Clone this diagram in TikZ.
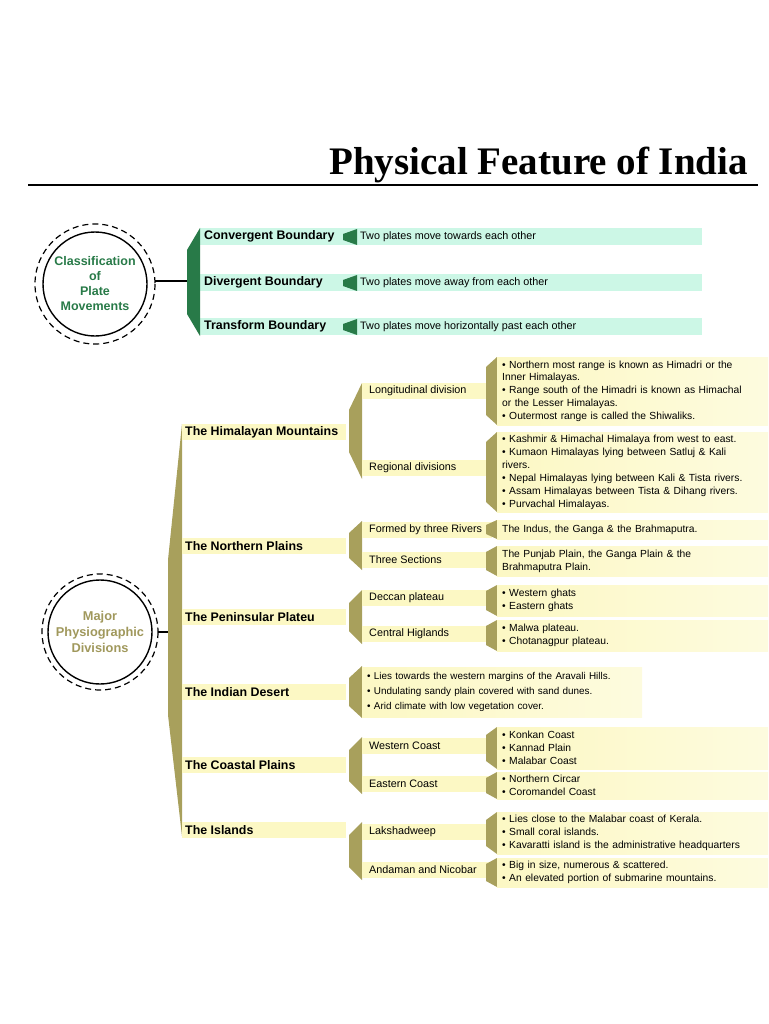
\documentclass[tikz,border=0pt]{standalone}
\usepackage{fontspec}
\setmainfont{Liberation Sans}
\newfontfamily\titlefont{Liberation Serif}
\definecolor{dgreen}{RGB}{40,122,72}
\definecolor{mint}{RGB}{204,247,230}
\definecolor{olive}{RGB}{168,160,92}
\definecolor{oltext}{RGB}{160,152,92}
\definecolor{lyel}{RGB}{252,248,196}
\newcommand{\brk}[6]{\fill[#6] (#2,#3) -- (#1,#3+#5) -- (#1,#4-#5) -- (#2,#4) -- cycle;}
\tikzset{
 bar/.style={fill=lyel,draw=none,inner sep=0pt,anchor=north west},
 lone/.style={anchor=west,inner sep=0pt,font=\fontsize{12.4}{14}\selectfont\bfseries},
 ltwo/.style={anchor=west,inner sep=0pt,font=\fontsize{10.8}{12}\selectfont},
 tbox/.style={anchor=north west,left color=lyel,right color=lyel!55!white,inner sep=0pt,inner xsep=5pt,align=left,font=\fontsize{10.3}{12.9}\selectfont},
 mbar/.style={fill=mint,draw=none,inner sep=0pt,anchor=north west},
}
\begin{document}
\begin{tikzpicture}[x=1pt,y=-1pt]
\useasboundingbox (0,0) rectangle (768,1024);
% title
\node[anchor=base east,inner sep=0pt,font=\titlefont\fontsize{39}{40}\selectfont\bfseries] (title) at (748,175) {Physical Feature of India};
\draw[line width=1.5pt] (28,185) -- (758,185);

% ---- top section
\node[circle,draw,line width=1.4pt,minimum size=104pt,inner sep=0pt,align=center,text=dgreen,font=\fontsize{12.5}{15}\selectfont\bfseries] (c1) at (95,284) {Classification\\of\\Plate\\Movements};
\draw[dashed,line width=1.2pt,dash pattern=on 6pt off 4pt] (c1.center) circle (60);
\coordinate (b1) at (187,281);
\coordinate (c1r) at (155,281);
\draw[line width=1.3pt] (c1r) -- (b1);
\foreach \y/\t/\d in {228/Convergent Boundary/Two plates move towards each other,274/Divergent Boundary/Two plates move away from each other,318/Transform Boundary/Two plates move horizontally past each other}{
  \node[mbar,minimum width=502pt,minimum height=17pt] (m\y) at (200,\y) {};
  \node[anchor=west,inner sep=0pt,font=\fontsize{12.4}{14}\selectfont\bfseries] (t\y) at (204,\y+8) {\t};
  \node[anchor=west,inner sep=0pt,font=\fontsize{10.8}{12}\selectfont] (d\y) at (360,\y+9) {\d};
  \brk{343}{357}{\y+1}{\y+17}{5}{dgreen}
}
\brk{187}{200}{228}{336}{22}{dgreen}

% ---- lower section
\node[circle,draw,line width=1.4pt,minimum size=104pt,inner sep=0pt,align=center,text=oltext,font=\fontsize{12.8}{16}\selectfont\bfseries] (c2) at (100,632) {Major\\Physiographic\\Divisions};
\draw[dashed,line width=1.2pt,dash pattern=on 6pt off 4pt] (c2.center) circle (58);
\coordinate (b2) at (168,632);
\coordinate (c2r) at (158,632);
\draw[line width=1.3pt] (c2r) -- (b2);
\fill[olive] (182,424) -- (168,560) -- (168,715) -- (182,836) -- cycle;

% level 1 bars
\foreach \y/\t in {432/The Himalayan Mountains,546/The Northern Plains,617/The Peninsular Plateu,692/The Indian Desert,765/The Coastal Plains,830/The Islands}{
  \node[bar,minimum width=164pt,minimum height=16pt] at (182,\y-8) {};
  \node[lone] at (185,\y) {\t};
}
% level 2 brackets
\brk{349}{362}{383}{479}{27}{olive}
\brk{349}{362}{521}{570}{12}{olive}
\brk{349}{362}{590}{644}{13}{olive}
\brk{349}{362}{666}{718}{12}{olive}
\brk{349}{362}{737}{794}{13}{olive}
\brk{349}{362}{822}{880}{13}{olive}
% level 2 labels
\foreach \y/\t in {391/Longitudinal division,468/Regional divisions,530/Formed by three Rivers,560/Three Sections,598/Deccan plateau,634/Central Higlands,746/Western Coast,784/Eastern Coast,832/Lakshadweep,870/Andaman and Nicobar}{
  \node[bar,minimum width=130pt,minimum height=16pt] at (362,\y-8) {};
  \node[ltwo] at (369,\y) {\t};
}
% desert box
\node[tbox,text width=270pt,minimum height=50pt,font=\fontsize{9.9}{14.8}\selectfont] (desert) at (362,667) {• Lies towards the western margins of the Aravali Hills.\\• Undulating sandy plain covered with sand dunes.\\• Arid climate with low vegetation cover.};

% level 3 brackets
\brk{486}{497}{357}{425}{10}{olive}
\brk{486}{497}{432}{512}{10}{olive}
\brk{486}{497}{520}{539}{5}{olive}
\brk{486}{497}{546}{576}{6}{olive}
\brk{486}{497}{585}{616}{6}{olive}
\brk{486}{497}{620}{651}{6}{olive}
\brk{486}{497}{727}{769}{8}{olive}
\brk{486}{497}{772}{799}{6}{olive}
\brk{486}{497}{812}{854}{8}{olive}
\brk{486}{497}{858}{887}{6}{olive}
% level 3 boxes
\node[tbox,text width=261pt,minimum height=68pt] (lon) at (497,357) {• Northern most range is known as Himadri or the\\Inner Himalayas.\\• Range south of the Himadri is known as Himachal\\or the Lesser Himalayas.\\• Outermost range is called the Shiwaliks.};
\node[tbox,text width=261pt,minimum height=80pt] (reg) at (497,432) {• Kashmir \& Himachal Himalaya from west to east.\\• Kumaon Himalayas lying between Satluj \& Kali\\rivers.\\• Nepal Himalayas lying between Kali \& Tista rivers.\\• Assam Himalayas between Tista \& Dihang rivers.\\• Purvachal Himalayas.};
\node[tbox,text width=261pt,minimum height=19pt] (riv) at (497,520) {The Indus, the Ganga \& the Brahmaputra.};
\node[tbox,text width=261pt,minimum height=30pt] (sec) at (497,546) {The Punjab Plain, the Ganga Plain \& the\\Brahmaputra Plain.};
\node[tbox,text width=261pt,minimum height=31pt] (dec) at (497,585) {• Western ghats\\• Eastern ghats};
\node[tbox,text width=261pt,minimum height=31pt] (cen) at (497,620) {• Malwa plateau.\\• Chotanagpur plateau.};
\node[tbox,text width=261pt,minimum height=42pt] (wes) at (497,727) {• Konkan Coast\\• Kannad Plain\\• Malabar Coast};
\node[tbox,text width=261pt,minimum height=27pt] (eas) at (497,772) {• Northern Circar\\• Coromandel Coast};
\node[tbox,text width=261pt,minimum height=42pt] (lak) at (497,812) {• Lies close to the Malabar coast of Kerala.\\• Small coral islands.\\• Kavaratti island is the administrative headquarters};
\node[tbox,text width=261pt,minimum height=29pt] (and) at (497,858) {• Big in size, numerous \& scattered.\\• An elevated portion of submarine mountains.};
\end{tikzpicture}
\end{document}
